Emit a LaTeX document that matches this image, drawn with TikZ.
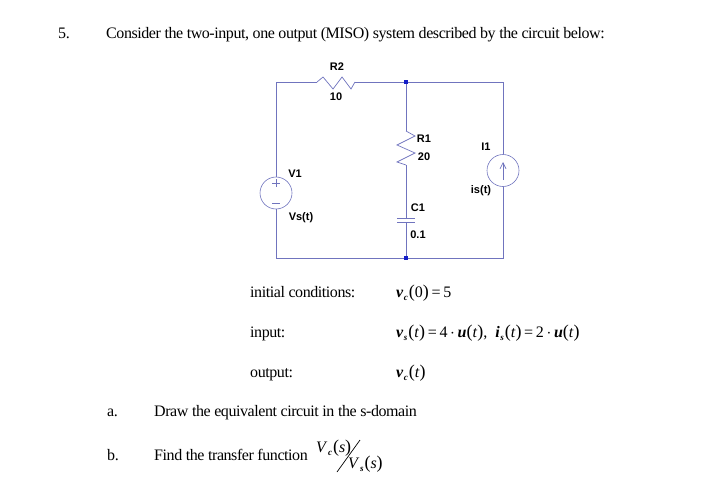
\documentclass[tikz,border=0pt]{standalone}
\usepackage{fontspec}
\setmainfont[LetterSpace=-2.7]{Liberation Serif}
\newfontfamily\eqfont{Liberation Serif}
\newfontfamily\labelfont{Liberation Sans}
\usetikzlibrary{arrows.meta}
\definecolor{wirecol}{RGB}{112,116,190}
\definecolor{dotcol}{RGB}{20,30,200}
\def\bigparen#1{{\fontsize{18}{18}\selectfont\raisebox{-0.5pt}{#1}}}
\def\sub#1{\kern0.5pt\raisebox{-3.5pt}{\fontsize{9}{9}\selectfont\textit{\textbf{#1}}}\kern1pt}
\def\var#1{\textit{\textbf{#1}}}
\tikzset{
	wire/.style={color=wirecol, line width=0.7pt},
	src/.style={circle, draw=wirecol, line width=0.6pt, minimum size=32pt, inner sep=0pt},
	dot/.style={rectangle, fill=dotcol, minimum size=4.5pt, inner sep=0pt},
	lbl/.style={anchor=center, inner sep=0pt, font=\labelfont\bfseries\fontsize{11}{11}\selectfont},
	txt/.style={anchor=base west, inner sep=0pt, font=\fontsize{16}{16}\selectfont},
	eqn/.style={anchor=base west, inner sep=0pt, font=\eqfont\fontsize{16}{16}\selectfont},
}
\begin{document}
\begin{tikzpicture}[x=1pt, y=-1pt]
		%%%%% START %%%%%
		\useasboundingbox (0, 0) rectangle (722, 487);
		
		\node[txt] (num) at (58, 38) {5.};
		\node[txt] (intro) at (106, 38) {Consider the two-input, one output (MISO) system described by the circuit below:};
		
		\coordinate (tl) at (276, 82);
		\coordinate (tr) at (503, 82);
		\coordinate (bl) at (276, 258);
		\coordinate (br) at (503, 258);
		\node[dot] (top) at (406, 82) {};
		\node[dot] (bot) at (406, 258) {};
		\node[src] (vone) at (276, 193) {};
		\node[src] (ione) at (503, 170.5) {};
		\coordinate (rtwoa) at (317, 82);
		\coordinate (rtwob) at (355, 82);
		\coordinate (ronea) at (406, 131);
		\coordinate (roneb) at (406, 165);
		\coordinate (capa) at (406, 218.5);
		\coordinate (capb) at (406, 222.5);
		
		\draw[wire] (vone) -- (tl) -- (rtwoa);
		\draw[wire] (rtwoa) -- (323, 77) -- (333, 89) -- (342, 77) -- (351, 89) -- (rtwob);
		\draw[wire] (rtwob) -- (top) -- (tr) -- (ione);
		\draw[wire] (ione) -- (br) -- (bot) -- (bl) -- (vone);
		
		\draw[wire] (top) -- (ronea);
		\draw[wire] (ronea) -- (415, 136) -- (397, 145) -- (415, 153) -- (397, 162) -- (roneb);
		\draw[wire] (roneb) -- (capa);
		\draw[wire] (397, 218.5) -- (415, 218.5);
		\draw[wire] (397, 222.5) -- (415, 222.5);
		\draw[wire] (capb) -- (bot);
		
		\draw[wire] (272, 183) -- (280, 183);
		\draw[wire] (276, 179) -- (276, 187);
		\draw[wire] (272, 203) -- (280, 203);
		\draw[wire, -{Straight Barb[length=6pt, width=6pt]}] (503, 180) -- (503, 162);
		
		\node[lbl] (rtwoname) at (337, 67) {R2};
		\node[lbl] (rtwoval) at (336, 97) {10};
		\node[lbl] (ronename) at (424, 139) {R1};
		\node[lbl] (roneval) at (424, 157) {20};
		\node[lbl] (cname) at (418, 208) {C1};
		\node[lbl] (cval) at (418, 235) {0.1};
		\node[lbl] (vname) at (295, 174) {V1};
		\node[lbl] (vval) at (301, 218) {Vs(t)};
		\node[lbl] (iname) at (486, 147) {I1};
		\node[lbl] (ival) at (481, 191) {is(t)};
		
		\node[txt] (init) at (250, 297) {initial conditions:};
		\node[txt] (inp) at (250, 337) {input:};
		\node[txt] (outp) at (250, 377) {output:};
		\node[eqn] (initeq) at (396, 297) {\var{v}\sub{c}\bigparen{(}0\bigparen{)}\,=\,5};
		\node[eqn] (inpeq) at (396, 337) {\var{v}\sub{s}\bigparen{(}\textit{t}\bigparen{)}\,=\,4\,$\cdot$\,\var{u}\bigparen{(}\textit{t}\bigparen{)},\ \ \var{i}\sub{s}\bigparen{(}\textit{t}\bigparen{)}\,=\,2\,$\cdot$\,\var{u}\bigparen{(}\textit{t}\bigparen{)}};
		\node[eqn] (outeq) at (396, 377) {\var{v}\sub{c}\bigparen{(}\textit{t}\bigparen{)}};
		
		\node[txt] (a) at (107, 416) {a.};
		\node[txt] (drawit) at (154, 416) {Draw the equivalent circuit in the s-domain};
		\node[txt] (b) at (107, 460) {b.};
		\node[txt] (findit) at (154, 460) {Find the transfer function};
		
		\node[eqn] (fracnum) at (316, 452) {\textit{V}\sub{c}\bigparen{(}\textit{s}\bigparen{)}};
		\node[eqn] (fracden) at (348, 468) {\textit{V}\sub{s}\bigparen{(}\textit{s}\bigparen{)}};
		\coordinate (slasha) at (337, 472);
		\coordinate (slashb) at (360, 440);
		\draw[line width=0.7pt] (slasha) -- (slashb);
		
		%%%%% END %%%%%
	\end{tikzpicture}
\end{document}
